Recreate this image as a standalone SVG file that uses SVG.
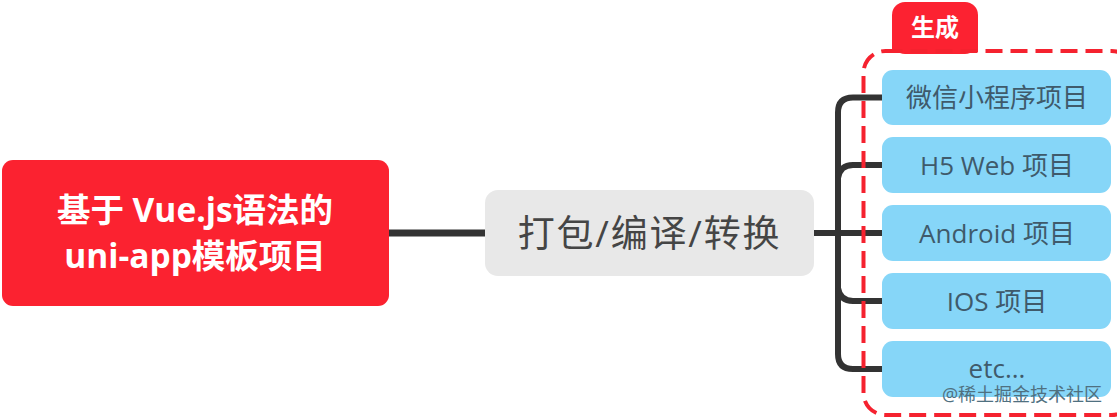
<svg xmlns="http://www.w3.org/2000/svg" width="1117" height="419" viewBox="0 0 1117 419">
<style>
text{font-family:"Open Sans","Noto Sans CJK SC",sans-serif;text-anchor:middle}
.c{fill:none;stroke:#333;stroke-width:6}
.b{fill:#86d6f8}
.bt{fill:#3f5a6b;font-size:26px}
.w{fill:#fff;font-weight:700}
</style>
<rect width="1117" height="419" fill="#fff"/>
<g id="connectors">
<path class="c" d="M389 233H485" style="stroke-width:7"/>
<path class="c" d="M814 233H882"/>
<path class="c" d="M882 97.500H853Q838 97.500 838 112.500V354Q838 369 853 369H882"/>
<path class="c" d="M882 165H853Q840 165 838 178"/>
<path class="c" d="M882 301H853Q840 301 838 288"/>
</g>
<g id="group-box">
<rect x="892" y="2" width="86" height="52" rx="13" fill="#fc2231"/>
<rect x="892" y="30" width="86" height="22" fill="#fc2231"/>
<rect x="863.500" y="51" width="270" height="364" rx="22" fill="none" stroke="#f5222f" stroke-width="4" stroke-dasharray="17 8"/>
<text class="w" x="935" y="36" font-size="24">生成</text>
</g>
<g id="root">
<rect x="2" y="160" width="387" height="146" rx="11" fill="#fb2230"/>
<text class="w" x="195" y="222" font-size="33.500">基于 Vue.js语法的</text>
<text class="w" x="195" y="268" font-size="33.500">uni-app模板项目</text>
</g>
<g id="center">
<rect x="485" y="190" width="329" height="86" rx="13" fill="#e8e8e8"/>
<text x="649.500" y="247" font-size="37" letter-spacing="1.800" fill="#454545">打包/编译/转换</text>
</g>
<g id="wechat"><rect class="b" x="882" y="70" width="229" height="55" rx="11"/><text class="bt" x="997" y="107">微信小程序项目</text></g>
<g id="h5"><rect class="b" x="882" y="137" width="229" height="56" rx="11"/><text class="bt" x="997" y="175">H5 Web 项目</text></g>
<g id="android"><rect class="b" x="882" y="205" width="229" height="56" rx="11"/><text class="bt" x="997" y="243">Android 项目</text></g>
<g id="ios"><rect class="b" x="882" y="273" width="229" height="56" rx="11"/><text class="bt" x="997" y="311">IOS 项目</text></g>
<g id="etc"><rect class="b" x="882" y="341" width="229" height="56" rx="11"/><text class="bt" x="997" y="378">etc...</text></g>
<text id="watermark" x="1022" y="401" font-size="18" fill="#4f7080">@稀土掘金技术社区</text>
</svg>
